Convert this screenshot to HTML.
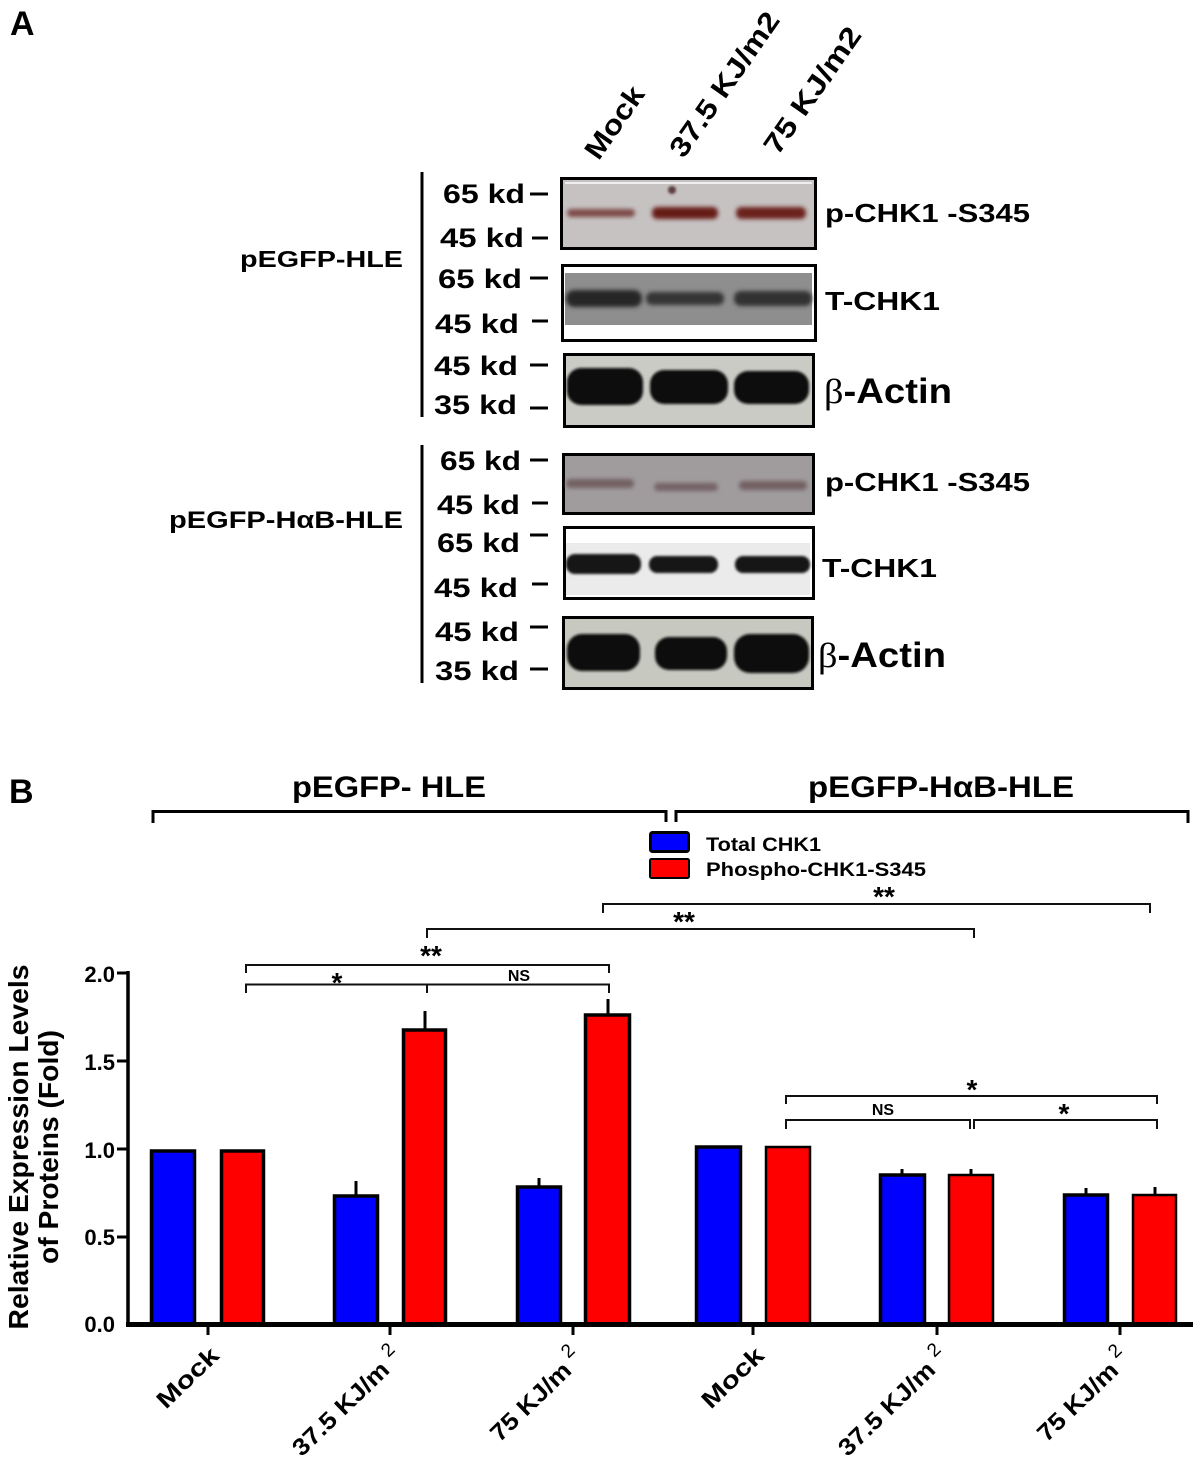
<!DOCTYPE html>
<html>
<head>
<meta charset="utf-8">
<style>
  html,body{margin:0;padding:0;background:#fff;}
  svg{display:block;}
  text{font-family:"Liberation Sans",Arial,sans-serif;font-weight:bold;fill:#000;}
  .serif{font-family:"Liberation Serif","DejaVu Serif",serif;font-weight:normal;}
</style>
</head>
<body>
<svg width="1200" height="1458" viewBox="0 0 1200 1458" xmlns="http://www.w3.org/2000/svg">
  <defs>
    <filter id="b2" x="-20%" y="-50%" width="140%" height="200%"><feGaussianBlur stdDeviation="2"/></filter>
    <filter id="b15" x="-20%" y="-50%" width="140%" height="200%"><feGaussianBlur stdDeviation="1.4"/></filter>
    <filter id="b3" x="-20%" y="-80%" width="140%" height="260%"><feGaussianBlur stdDeviation="2.6"/></filter>
  </defs>

  <!-- Panel letters -->
  <text x="10" y="35" font-size="34">A</text>
  <text x="9" y="803" font-size="34">B</text>

  <!-- Column labels (blot) -->
  <g transform="translate(614,122) rotate(-55)"><text x="0" y="10" font-size="28" text-anchor="middle" textLength="82" lengthAdjust="spacingAndGlyphs">Mock</text></g>
  <g transform="translate(724,84) rotate(-55)"><text x="0" y="10" font-size="28" text-anchor="middle" textLength="170" lengthAdjust="spacingAndGlyphs">37.5 KJ/m2</text></g>
  <g transform="translate(812,90) rotate(-55)"><text x="0" y="10" font-size="28" text-anchor="middle" textLength="148" lengthAdjust="spacingAndGlyphs">75 KJ/m2</text></g>

  <!-- Left group labels -->
  <text x="403" y="267" font-size="23" text-anchor="end" textLength="163" lengthAdjust="spacingAndGlyphs">pEGFP-HLE</text>
  <text x="403" y="528" font-size="24" text-anchor="end" textLength="234" lengthAdjust="spacingAndGlyphs">pEGFP-HαB-HLE</text>
  <line x1="422" y1="172" x2="422" y2="417" stroke="#000" stroke-width="3"/>
  <line x1="422" y1="445" x2="422" y2="683" stroke="#000" stroke-width="3"/>

  <!-- kd labels -->
  <g font-size="27">
    <text x="525" y="203" text-anchor="end" textLength="82" lengthAdjust="spacingAndGlyphs">65 kd</text>
    <text x="524" y="247" text-anchor="end" textLength="84" lengthAdjust="spacingAndGlyphs">45 kd</text>
    <text x="522" y="288" text-anchor="end" textLength="84" lengthAdjust="spacingAndGlyphs">65 kd</text>
    <text x="519" y="333" text-anchor="end" textLength="84" lengthAdjust="spacingAndGlyphs">45 kd</text>
    <text x="518" y="375" text-anchor="end" textLength="84" lengthAdjust="spacingAndGlyphs">45 kd</text>
    <text x="517" y="414" text-anchor="end" textLength="83" lengthAdjust="spacingAndGlyphs">35 kd</text>
    <text x="521" y="470" text-anchor="end" textLength="81" lengthAdjust="spacingAndGlyphs">65 kd</text>
    <text x="520" y="514" text-anchor="end" textLength="83" lengthAdjust="spacingAndGlyphs">45 kd</text>
    <text x="520" y="552" text-anchor="end" textLength="83" lengthAdjust="spacingAndGlyphs">65 kd</text>
    <text x="518" y="597" text-anchor="end" textLength="84" lengthAdjust="spacingAndGlyphs">45 kd</text>
    <text x="519" y="641" text-anchor="end" textLength="84" lengthAdjust="spacingAndGlyphs">45 kd</text>
    <text x="519" y="680" text-anchor="end" textLength="84" lengthAdjust="spacingAndGlyphs">35 kd</text>
  </g>
  <g stroke="#000" stroke-width="3">
    <line x1="530" y1="194" x2="548" y2="194"/>
    <line x1="532" y1="238" x2="548" y2="238"/>
    <line x1="530" y1="278" x2="548" y2="278"/>
    <line x1="532" y1="321" x2="548" y2="321"/>
    <line x1="530" y1="365" x2="548" y2="365"/>
    <line x1="530" y1="408" x2="548" y2="408"/>
    <line x1="530" y1="460" x2="548" y2="460"/>
    <line x1="532" y1="503" x2="548" y2="503"/>
    <line x1="530" y1="535" x2="548" y2="535"/>
    <line x1="532" y1="584" x2="548" y2="584"/>
    <line x1="530" y1="627" x2="548" y2="627"/>
    <line x1="530" y1="669" x2="548" y2="669"/>
  </g>

  <!-- Blot 1: p-CHK1 upper -->
  <rect x="561.5" y="178.5" width="254" height="70" fill="#c6c2c2" stroke="#000" stroke-width="3"/>
  <rect x="565" y="182" width="247" height="2" fill="#eeeeee"/>
  <circle cx="672" cy="190" r="4" fill="#5d3c3c" filter="url(#b15)"/>
  <rect x="567" y="209" width="68" height="8" rx="4" fill="#7e4c4a" filter="url(#b2)"/>
  <rect x="652" y="207" width="66" height="12" rx="5" fill="#661a16" filter="url(#b2)"/>
  <rect x="736" y="207" width="70" height="12" rx="5" fill="#6c221e" filter="url(#b2)"/>

  <!-- Blot 2: T-CHK1 upper -->
  <rect x="562.5" y="265.5" width="253" height="75" fill="#ffffff" stroke="#000" stroke-width="3"/>
  <rect x="565" y="273" width="247" height="52" fill="#8e8e8e"/>
  <rect x="566" y="290" width="76" height="17" rx="8" fill="#282828" filter="url(#b2)"/>
  <rect x="646" y="292" width="78" height="13" rx="6" fill="#363636" filter="url(#b2)"/>
  <rect x="734" y="291" width="78" height="15" rx="7" fill="#303030" filter="url(#b2)"/>

  <!-- Blot 3: beta actin upper -->
  <rect x="564.5" y="354.5" width="249" height="72" fill="#cbcbc6" stroke="#000" stroke-width="3"/>
  <rect x="567" y="368" width="76" height="37" rx="14" fill="#0e0e0e" filter="url(#b15)"/>
  <rect x="650" y="370" width="78" height="34" rx="14" fill="#0e0e0e" filter="url(#b15)"/>
  <rect x="734" y="371" width="75" height="33" rx="14" fill="#0e0e0e" filter="url(#b15)"/>

  <!-- Blot 4: p-CHK1 lower -->
  <rect x="563.5" y="454.5" width="250" height="59" fill="#a09c9e" stroke="#000" stroke-width="3"/>
  <rect x="566" y="479" width="68" height="9" rx="4" fill="#726064" filter="url(#b2)"/>
  <rect x="654" y="483" width="64" height="8" rx="4" fill="#746266" filter="url(#b2)"/>
  <rect x="739" y="481" width="68" height="9" rx="4" fill="#726064" filter="url(#b2)"/>

  <!-- Blot 5: T-CHK1 lower -->
  <rect x="564.5" y="527.5" width="249" height="71" fill="#ffffff" stroke="#000" stroke-width="3"/>
  <rect x="566" y="543" width="244" height="52" fill="#ebebeb"/>
  <rect x="566" y="554" width="75" height="20" rx="9" fill="#121212" filter="url(#b15)"/>
  <rect x="649" y="556" width="69" height="17" rx="8" fill="#121212" filter="url(#b15)"/>
  <rect x="735" y="556" width="75" height="17" rx="8" fill="#141414" filter="url(#b15)"/>

  <!-- Blot 6: beta actin lower -->
  <rect x="563.5" y="617.5" width="249" height="71" fill="#c7c8c0" stroke="#000" stroke-width="3"/>
  <rect x="567" y="634" width="73" height="37" rx="15" fill="#0e0e0e" filter="url(#b15)"/>
  <rect x="655" y="637" width="72" height="33" rx="14" fill="#0e0e0e" filter="url(#b15)"/>
  <rect x="734" y="634" width="75" height="39" rx="16" fill="#0e0e0e" filter="url(#b15)"/>

  <!-- Right labels -->
  <text x="825" y="222" font-size="26" textLength="205" lengthAdjust="spacingAndGlyphs">p-CHK1 -S345</text>
  <text x="825" y="310" font-size="26" textLength="115" lengthAdjust="spacingAndGlyphs">T-CHK1</text>
  <text x="824" y="403" font-size="35" textLength="128" lengthAdjust="spacingAndGlyphs"><tspan class="serif">β</tspan>-Actin</text>
  <text x="825" y="491" font-size="26" textLength="205" lengthAdjust="spacingAndGlyphs">p-CHK1 -S345</text>
  <text x="822" y="577" font-size="26" textLength="115" lengthAdjust="spacingAndGlyphs">T-CHK1</text>
  <text x="818" y="667" font-size="35" textLength="128" lengthAdjust="spacingAndGlyphs"><tspan class="serif">β</tspan>-Actin</text>

  <!-- ============ Panel B ============ -->
  <text x="292" y="797" font-size="30" textLength="194" lengthAdjust="spacingAndGlyphs">pEGFP- HLE</text>
  <text x="808" y="797" font-size="30" textLength="266" lengthAdjust="spacingAndGlyphs">pEGFP-HαB-HLE</text>
  <polyline points="153,823 153,811.5 666,811.5 666,822" fill="none" stroke="#000" stroke-width="3"/>
  <polyline points="676,822 676,811.5 1188,811.5 1188,823" fill="none" stroke="#000" stroke-width="3"/>

  <!-- Legend -->
  <rect x="650.5" y="832.5" width="38" height="19" rx="2" fill="#0000ff" stroke="#000" stroke-width="3"/>
  <rect x="650" y="859" width="39" height="19" rx="1.5" fill="#ff0000" stroke="#000" stroke-width="2"/>
  <text x="706" y="851" font-size="19" textLength="115" lengthAdjust="spacingAndGlyphs">Total CHK1</text>
  <text x="706" y="876" font-size="19" textLength="220" lengthAdjust="spacingAndGlyphs">Phospho-CHK1-S345</text>

  <!-- Significance brackets -->
  <g fill="none" stroke="#111" stroke-width="2">
    <polyline points="603,913 603,904 1150,904 1150,913"/>
    <polyline points="427,938 427,929 974,929 974,938"/>
    <polyline points="246,973 246,965 609,965 609,973"/>
    <polyline points="246,993 246,984.5 609,984.5 609,993"/>
    <line x1="427" y1="984.5" x2="427" y2="993"/>
    <polyline points="786,1104 786,1096 1157,1096 1157,1104"/>
    <polyline points="786,1129 786,1120 970,1120 970,1129"/>
    <polyline points="974,1129 974,1120 1157,1120 1157,1129"/>
  </g>
  <g font-size="28" text-anchor="middle">
    <text x="884" y="906">**</text>
    <text x="684" y="931">**</text>
    <text x="431" y="965">**</text>
    <text x="337" y="992">*</text>
    <text x="972" y="1099">*</text>
    <text x="1064" y="1123">*</text>
  </g>
  <g font-size="16" text-anchor="middle">
    <text x="519" y="981">NS</text>
    <text x="883" y="1115">NS</text>
  </g>

  <!-- Y axis -->
  <line x1="128" y1="971" x2="128" y2="1327" stroke="#000" stroke-width="3.5"/>
  <g stroke="#000" stroke-width="3">
    <line x1="117" y1="973" x2="128" y2="973"/>
    <line x1="117" y1="1061" x2="128" y2="1061"/>
    <line x1="117" y1="1149" x2="128" y2="1149"/>
    <line x1="117" y1="1237" x2="128" y2="1237"/>
  </g>
  <g font-size="22" text-anchor="end">
    <text x="115" y="982">2.0</text>
    <text x="115" y="1070">1.5</text>
    <text x="115" y="1158">1.0</text>
    <text x="115" y="1245">0.5</text>
    <text x="115" y="1332">0.0</text>
  </g>
  <g transform="translate(28,1147) rotate(-90)">
    <text x="0" y="0" font-size="28" text-anchor="middle" textLength="365" lengthAdjust="spacingAndGlyphs">Relative Expression Levels</text>
  </g>
  <g transform="translate(62,1147) rotate(-90)">
    <text x="0" y="-4" font-size="28" text-anchor="middle" textLength="234" lengthAdjust="spacingAndGlyphs">of Proteins (Fold)</text>
  </g>

  <!-- Error bars -->
  <g stroke="#000" stroke-width="3">
    <line x1="356" y1="1181" x2="356" y2="1196"/>
    <line x1="425" y1="1011" x2="425" y2="1030"/>
    <line x1="539" y1="1178" x2="539" y2="1187"/>
    <line x1="608" y1="999" x2="608" y2="1015"/>
    <line x1="902" y1="1169" x2="902" y2="1175"/>
    <line x1="971" y1="1169" x2="971" y2="1175"/>
    <line x1="1086" y1="1188" x2="1086" y2="1195"/>
    <line x1="1155" y1="1187" x2="1155" y2="1195"/>
  </g>

  <!-- Bars -->
  <g stroke="#000" stroke-width="3.5">
    <rect x="151.5" y="1151" width="43" height="174" fill="#0000ff"/>
    <rect x="221.5" y="1151" width="42" height="174" fill="#ff0000"/>
    <rect x="334.5" y="1196" width="43" height="129" fill="#0000ff"/>
    <rect x="403.5" y="1030" width="42" height="295" fill="#ff0000"/>
    <rect x="517.5" y="1187" width="43" height="138" fill="#0000ff"/>
    <rect x="585.5" y="1015" width="44" height="310" fill="#ff0000"/>
    <rect x="696.5" y="1147" width="44" height="178" fill="#0000ff"/>
    <rect x="766" y="1147" width="44" height="178" fill="#ff0000" stroke-width="2.5"/>
    <rect x="880.5" y="1175" width="44" height="150" fill="#0000ff"/>
    <rect x="949" y="1175" width="44" height="150" fill="#ff0000" stroke-width="2.5"/>
    <rect x="1064.5" y="1195" width="43" height="130" fill="#0000ff"/>
    <rect x="1133" y="1195" width="43" height="130" fill="#ff0000" stroke-width="2.5"/>
  </g>

  <!-- X axis -->
  <line x1="126" y1="1324.5" x2="1193" y2="1324.5" stroke="#000" stroke-width="5"/>
  <g stroke="#000" stroke-width="3">
    <line x1="208" y1="1324" x2="208" y2="1335"/>
    <line x1="390" y1="1324" x2="390" y2="1335"/>
    <line x1="573" y1="1324" x2="573" y2="1335"/>
    <line x1="753" y1="1324" x2="753" y2="1335"/>
    <line x1="937" y1="1324" x2="937" y2="1335"/>
    <line x1="1120" y1="1324" x2="1120" y2="1335"/>
  </g>

  <!-- X labels -->
  <g font-size="24">
    <g transform="translate(187,1377) rotate(-44)"><text x="0" y="9" text-anchor="middle" textLength="76" lengthAdjust="spacingAndGlyphs">Mock</text></g>
    <g transform="translate(340,1408) rotate(-44)"><text x="0" y="9" text-anchor="middle" textLength="124" lengthAdjust="spacingAndGlyphs">37.5 KJ/m</text></g>
    <g transform="translate(530,1401) rotate(-44)"><text x="0" y="9" text-anchor="middle" textLength="102" lengthAdjust="spacingAndGlyphs">75 KJ/m</text></g>
    <g transform="translate(732,1377) rotate(-44)"><text x="0" y="9" text-anchor="middle" textLength="76" lengthAdjust="spacingAndGlyphs">Mock</text></g>
    <g transform="translate(886,1408) rotate(-44)"><text x="0" y="9" text-anchor="middle" textLength="124" lengthAdjust="spacingAndGlyphs">37.5 KJ/m</text></g>
    <g transform="translate(1077,1401) rotate(-44)"><text x="0" y="9" text-anchor="middle" textLength="102" lengthAdjust="spacingAndGlyphs">75 KJ/m</text></g>
  </g>
  <g font-size="19">
    <g transform="translate(388,1350) rotate(-44)"><text x="0" y="6" text-anchor="middle" style="font-weight:normal">2</text></g>
    <g transform="translate(568,1351) rotate(-44)"><text x="0" y="6" text-anchor="middle" style="font-weight:normal">2</text></g>
    <g transform="translate(934,1350) rotate(-44)"><text x="0" y="6" text-anchor="middle" style="font-weight:normal">2</text></g>
    <g transform="translate(1115,1351) rotate(-44)"><text x="0" y="6" text-anchor="middle" style="font-weight:normal">2</text></g>
  </g>
</svg>
</body>
</html>
